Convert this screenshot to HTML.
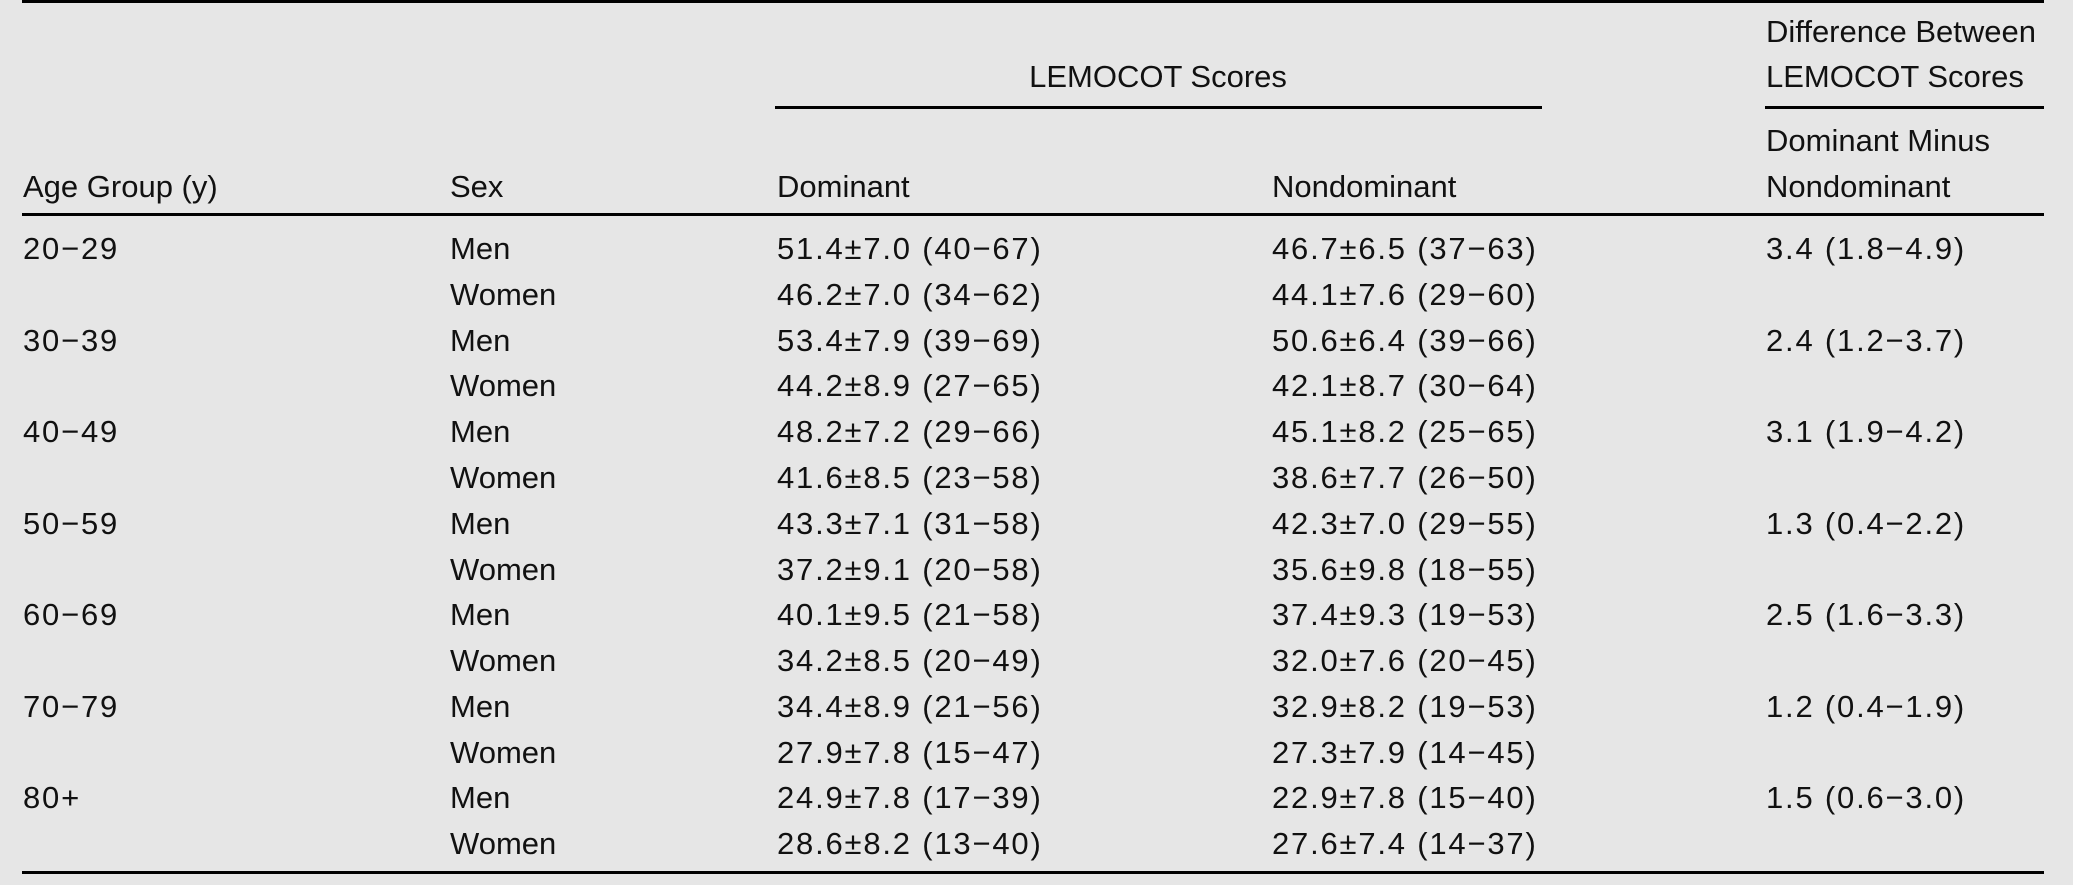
<!DOCTYPE html>
<html><head><meta charset="utf-8"><style>
html,body{margin:0;padding:0;}
body{width:2073px;height:885px;background:#e6e6e6;position:relative;overflow:hidden;font-family:"Liberation Sans",sans-serif;font-size:31px;color:#111;}
.t{position:absolute;line-height:46px;white-space:nowrap;}
.n{letter-spacing:1.8px;}
.l{position:absolute;background:#000;}
</style></head><body>
<div class="l" style="left:22px;top:0px;width:2022px;height:3px"></div>
<div class="l" style="left:775px;top:106px;width:767px;height:3px"></div>
<div class="l" style="left:1765px;top:106px;width:279px;height:3px"></div>
<div class="l" style="left:22px;top:213px;width:2022px;height:3px"></div>
<div class="l" style="left:22px;top:871px;width:2022px;height:3px"></div>

<div class="t" style="left:1766px;top:9px">Difference Between</div>
<div class="t" style="left:1766px;top:54px">LEMOCOT Scores</div>
<div class="t" style="left:1158px;top:54px;transform:translateX(-50%)">LEMOCOT Scores</div>
<div class="t" style="left:1766px;top:118px">Dominant Minus</div>
<div class="t" style="left:1766px;top:164px">Nondominant</div>
<div class="t" style="left:23px;top:164px">Age Group (y)</div>
<div class="t" style="left:450px;top:164px">Sex</div>
<div class="t" style="left:777px;top:164px">Dominant</div>
<div class="t" style="left:1272px;top:164px">Nondominant</div>

<div class="t n" style="left:23px;top:226px">20−29</div>
<div class="t n" style="left:23px;top:318px">30−39</div>
<div class="t n" style="left:23px;top:409px">40−49</div>
<div class="t n" style="left:23px;top:501px">50−59</div>
<div class="t n" style="left:23px;top:592px">60−69</div>
<div class="t n" style="left:23px;top:684px">70−79</div>
<div class="t n" style="left:23px;top:775px">80+</div>

<div class="t" style="left:450px;top:226px">Men</div>
<div class="t" style="left:450px;top:272px">Women</div>
<div class="t" style="left:450px;top:318px">Men</div>
<div class="t" style="left:450px;top:363px">Women</div>
<div class="t" style="left:450px;top:409px">Men</div>
<div class="t" style="left:450px;top:455px">Women</div>
<div class="t" style="left:450px;top:501px">Men</div>
<div class="t" style="left:450px;top:547px">Women</div>
<div class="t" style="left:450px;top:592px">Men</div>
<div class="t" style="left:450px;top:638px">Women</div>
<div class="t" style="left:450px;top:684px">Men</div>
<div class="t" style="left:450px;top:730px">Women</div>
<div class="t" style="left:450px;top:775px">Men</div>
<div class="t" style="left:450px;top:821px">Women</div>

<div class="t n" style="left:777px;top:226px">51.4±7.0 (40−67)</div>
<div class="t n" style="left:777px;top:272px">46.2±7.0 (34−62)</div>
<div class="t n" style="left:777px;top:318px">53.4±7.9 (39−69)</div>
<div class="t n" style="left:777px;top:363px">44.2±8.9 (27−65)</div>
<div class="t n" style="left:777px;top:409px">48.2±7.2 (29−66)</div>
<div class="t n" style="left:777px;top:455px">41.6±8.5 (23−58)</div>
<div class="t n" style="left:777px;top:501px">43.3±7.1 (31−58)</div>
<div class="t n" style="left:777px;top:547px">37.2±9.1 (20−58)</div>
<div class="t n" style="left:777px;top:592px">40.1±9.5 (21−58)</div>
<div class="t n" style="left:777px;top:638px">34.2±8.5 (20−49)</div>
<div class="t n" style="left:777px;top:684px">34.4±8.9 (21−56)</div>
<div class="t n" style="left:777px;top:730px">27.9±7.8 (15−47)</div>
<div class="t n" style="left:777px;top:775px">24.9±7.8 (17−39)</div>
<div class="t n" style="left:777px;top:821px">28.6±8.2 (13−40)</div>

<div class="t n" style="left:1272px;top:226px">46.7±6.5 (37−63)</div>
<div class="t n" style="left:1272px;top:272px">44.1±7.6 (29−60)</div>
<div class="t n" style="left:1272px;top:318px">50.6±6.4 (39−66)</div>
<div class="t n" style="left:1272px;top:363px">42.1±8.7 (30−64)</div>
<div class="t n" style="left:1272px;top:409px">45.1±8.2 (25−65)</div>
<div class="t n" style="left:1272px;top:455px">38.6±7.7 (26−50)</div>
<div class="t n" style="left:1272px;top:501px">42.3±7.0 (29−55)</div>
<div class="t n" style="left:1272px;top:547px">35.6±9.8 (18−55)</div>
<div class="t n" style="left:1272px;top:592px">37.4±9.3 (19−53)</div>
<div class="t n" style="left:1272px;top:638px">32.0±7.6 (20−45)</div>
<div class="t n" style="left:1272px;top:684px">32.9±8.2 (19−53)</div>
<div class="t n" style="left:1272px;top:730px">27.3±7.9 (14−45)</div>
<div class="t n" style="left:1272px;top:775px">22.9±7.8 (15−40)</div>
<div class="t n" style="left:1272px;top:821px">27.6±7.4 (14−37)</div>

<div class="t n" style="left:1766px;top:226px">3.4 (1.8−4.9)</div>
<div class="t n" style="left:1766px;top:318px">2.4 (1.2−3.7)</div>
<div class="t n" style="left:1766px;top:409px">3.1 (1.9−4.2)</div>
<div class="t n" style="left:1766px;top:501px">1.3 (0.4−2.2)</div>
<div class="t n" style="left:1766px;top:592px">2.5 (1.6−3.3)</div>
<div class="t n" style="left:1766px;top:684px">1.2 (0.4−1.9)</div>
<div class="t n" style="left:1766px;top:775px">1.5 (0.6−3.0)</div>
</body></html>
